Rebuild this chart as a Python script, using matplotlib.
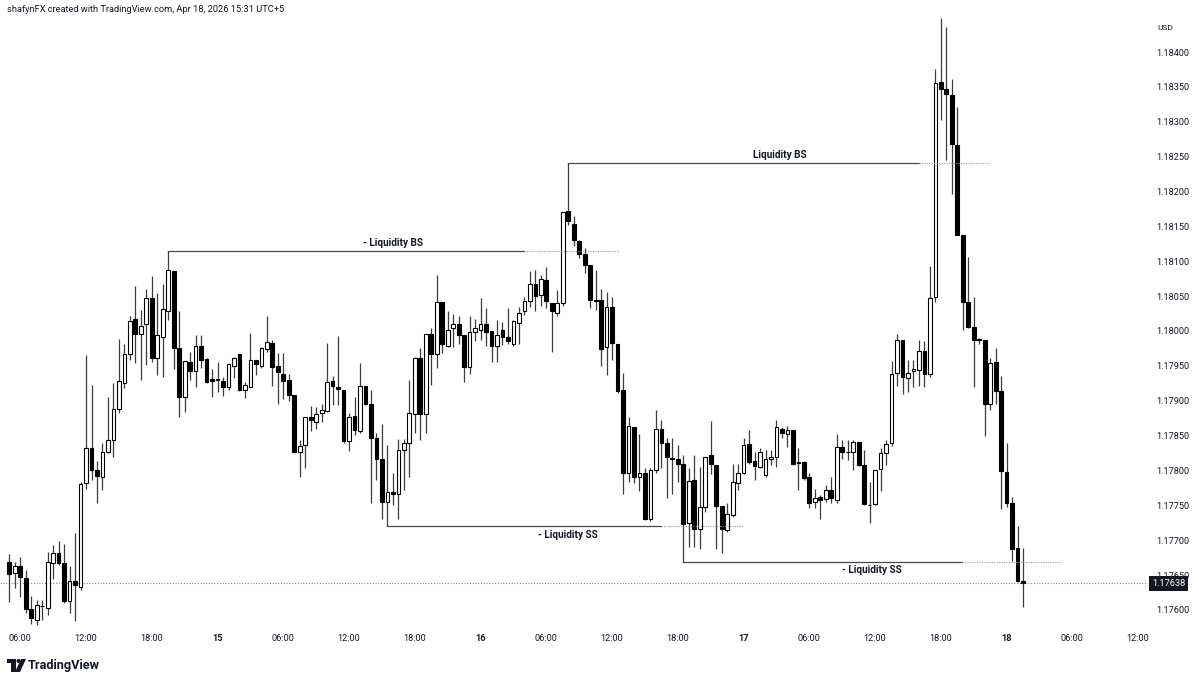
import numpy as np
import pandas as pd
import matplotlib
matplotlib.use('Agg')
import matplotlib.pyplot as plt
import matplotlib.dates as mdates
import matplotlib.transforms as mtransforms
from matplotlib.patches import Rectangle, Circle, Polygon

plt.rcParams['font.family'] = ['Roboto', 'DejaVu Sans']

# EURUSD 30 min candles
opens = [1.17669, 1.17653, 1.17663, 1.17646, 1.17601, 1.17586, 1.17605, 1.17603, 1.17668, 1.17681,
         1.17668, 1.17613, 1.17641, 1.17633, 1.17782, 1.17832, 1.17801, 1.17791, 1.17827, 1.17844,
         1.17888, 1.17926, 1.17967, 1.18017, 1.17996, 1.18010, 1.18047, 1.17962, 1.17992, 1.18029,
         1.18086, 1.17976, 1.17905, 1.17955, 1.17943, 1.17978, 1.17960, 1.17931, 1.17930, 1.17928,
         1.17920, 1.17950, 1.17967, 1.17915, 1.17920, 1.17958, 1.17950, 1.17974, 1.17983, 1.17950,
         1.17938, 1.17930, 1.17908, 1.17826, 1.17836, 1.17876, 1.17870, 1.17882, 1.17886, 1.17928,
         1.17920, 1.17916, 1.17842, 1.17878, 1.17856, 1.17921, 1.17895, 1.17846, 1.17816, 1.17755,
         1.17769, 1.17767, 1.17829, 1.17840, 1.17881, 1.17962, 1.17881, 1.17995, 1.17967, 1.18041,
         1.17979, 1.18005, 1.18010, 1.17994, 1.17949, 1.17998, 1.18002, 1.18010, 1.18000, 1.17978,
         1.18002, 1.17992, 1.17981, 1.18012, 1.18028, 1.18043, 1.18068, 1.18051, 1.18073, 1.18040,
         1.18026, 1.18040, 1.18172, 1.18154, 1.18129, 1.18110, 1.18094, 1.18044, 1.18044, 1.17977,
         1.18035, 1.17982, 1.17915, 1.17797, 1.17863, 1.17791, 1.17796, 1.17731, 1.17801, 1.17859,
         1.17839, 1.17817, 1.17816, 1.17810, 1.17725, 1.17786, 1.17716, 1.17748, 1.17822, 1.17808,
         1.17749, 1.17714, 1.17736, 1.17782, 1.17797, 1.17838, 1.17813, 1.17805, 1.17793, 1.17816,
         1.17820, 1.17859, 1.17852, 1.17858, 1.17812, 1.17812, 1.17790, 1.17755, 1.17762, 1.17759,
         1.17772, 1.17758, 1.17834, 1.17826, 1.17827, 1.17841, 1.17808, 1.17750, 1.17752, 1.17802,
         1.17825, 1.17840, 1.17940, 1.17987, 1.17933, 1.17943, 1.17944, 1.17972, 1.17938, 1.18049,
         1.18357, 1.18347, 1.18338, 1.18266, 1.18138, 1.18042, 1.18006, 1.17988, 1.17987, 1.17896,
         1.17956, 1.17914, 1.17798, 1.17754, 1.17689, 1.17642]
highs = [1.17680, 1.17669, 1.17676, 1.17657, 1.17620, 1.17614, 1.17614, 1.17683, 1.17693, 1.17699,
         1.17695, 1.17663, 1.17710, 1.17783, 1.17966, 1.17923, 1.17814, 1.17839, 1.17905, 1.17926,
         1.17988, 1.17982, 1.18021, 1.18065, 1.18030, 1.18060, 1.18079, 1.18054, 1.18068, 1.18115,
         1.18086, 1.18029, 1.17957, 1.17970, 1.17994, 1.17994, 1.17961, 1.17946, 1.17955, 1.17934,
         1.17954, 1.17963, 1.17967, 1.17927, 1.17997, 1.17959, 1.17977, 1.18021, 1.17987, 1.17968,
         1.17969, 1.17939, 1.17908, 1.17844, 1.17877, 1.17892, 1.17891, 1.17896, 1.17983, 1.17935,
         1.17993, 1.17916, 1.17883, 1.17906, 1.17954, 1.17921, 1.17915, 1.17854, 1.17866, 1.17837,
         1.17796, 1.17845, 1.17845, 1.17930, 1.17963, 1.17975, 1.17995, 1.18004, 1.18080, 1.18041,
         1.18028, 1.18025, 1.18021, 1.17994, 1.18021, 1.18017, 1.18048, 1.18033, 1.18000, 1.18016,
         1.18013, 1.18033, 1.18016, 1.18035, 1.18049, 1.18086, 1.18087, 1.18080, 1.18092, 1.18040,
         1.18059, 1.18171, 1.18241, 1.18165, 1.18130, 1.18119, 1.18095, 1.18087, 1.18060, 1.18056,
         1.18049, 1.17982, 1.17940, 1.17876, 1.17863, 1.17853, 1.17803, 1.17803, 1.17887, 1.17873,
         1.17846, 1.17846, 1.17837, 1.17822, 1.17803, 1.17822, 1.17805, 1.17820, 1.17871, 1.17808,
         1.17749, 1.17753, 1.17810, 1.17809, 1.17846, 1.17858, 1.17827, 1.17832, 1.17829, 1.17829,
         1.17872, 1.17863, 1.17864, 1.17858, 1.17832, 1.17813, 1.17797, 1.17774, 1.17765, 1.17779,
         1.17791, 1.17853, 1.17844, 1.17844, 1.17844, 1.17841, 1.17829, 1.17784, 1.17801, 1.17832,
         1.17844, 1.17957, 1.17995, 1.17987, 1.17958, 1.17958, 1.17987, 1.17986, 1.18093, 1.18375,
         1.18449, 1.18436, 1.18361, 1.18321, 1.18138, 1.18106, 1.18049, 1.17990, 1.17987, 1.17961,
         1.17976, 1.17936, 1.17839, 1.17762, 1.17720, 1.17689]
lows = [1.17612, 1.17631, 1.17619, 1.17596, 1.17580, 1.17578, 1.17586, 1.17593, 1.17645, 1.17665,
        1.17610, 1.17595, 1.17584, 1.17629, 1.17774, 1.17786, 1.17753, 1.17772, 1.17825, 1.17820,
        1.17883, 1.17918, 1.17958, 1.17954, 1.17930, 1.17951, 1.17956, 1.17937, 1.17934, 1.18016,
        1.17945, 1.17876, 1.17884, 1.17930, 1.17920, 1.17947, 1.17926, 1.17906, 1.17913, 1.17907,
        1.17915, 1.17932, 1.17914, 1.17904, 1.17919, 1.17937, 1.17947, 1.17970, 1.17921, 1.17895,
        1.17902, 1.17900, 1.17825, 1.17790, 1.17804, 1.17857, 1.17860, 1.17870, 1.17884, 1.17894,
        1.17894, 1.17840, 1.17828, 1.17851, 1.17854, 1.17894, 1.17754, 1.17786, 1.17730, 1.17720,
        1.17751, 1.17731, 1.17772, 1.17790, 1.17854, 1.17844, 1.17854, 1.17923, 1.17947, 1.17968,
        1.17977, 1.17977, 1.17981, 1.17927, 1.17939, 1.17985, 1.17987, 1.17978, 1.17955, 1.17956,
        1.17980, 1.17981, 1.17978, 1.17981, 1.18023, 1.18035, 1.18029, 1.18036, 1.18033, 1.17970,
        1.18021, 1.18036, 1.18152, 1.18122, 1.18105, 1.18083, 1.18033, 1.18030, 1.17950, 1.17937,
        1.17958, 1.17911, 1.17766, 1.17784, 1.17782, 1.17770, 1.17729, 1.17727, 1.17796, 1.17803,
        1.17760, 1.17767, 1.17783, 1.17669, 1.17691, 1.17691, 1.17688, 1.17741, 1.17795, 1.17688,
        1.17681, 1.17712, 1.17734, 1.17772, 1.17795, 1.17810, 1.17786, 1.17803, 1.17791, 1.17808,
        1.17805, 1.17846, 1.17834, 1.17808, 1.17772, 1.17787, 1.17746, 1.17746, 1.17731, 1.17755,
        1.17754, 1.17753, 1.17816, 1.17815, 1.17800, 1.17806, 1.17750, 1.17724, 1.17750, 1.17770,
        1.17808, 1.17835, 1.17921, 1.17910, 1.17913, 1.17919, 1.17921, 1.17919, 1.17934, 1.18041,
        1.18302, 1.18245, 1.18197, 1.18137, 1.18001, 1.18004, 1.17919, 1.17981, 1.17850, 1.17887,
        1.17896, 1.17745, 1.17748, 1.17670, 1.17640, 1.17604]
closes = [1.17651, 1.17663, 1.17648, 1.17601, 1.17589, 1.17607, 1.17606, 1.17669, 1.17681, 1.17668,
          1.17613, 1.17641, 1.17636, 1.17781, 1.17832, 1.17800, 1.17792, 1.17827, 1.17844, 1.17888,
          1.17928, 1.17967, 1.18014, 1.17996, 1.18007, 1.18047, 1.17962, 1.17994, 1.18031, 1.18088,
          1.17975, 1.17905, 1.17957, 1.17943, 1.17978, 1.17958, 1.17927, 1.17929, 1.17931, 1.17919,
          1.17952, 1.17961, 1.17915, 1.17922, 1.17958, 1.17953, 1.17975, 1.17984, 1.17948, 1.17941,
          1.17929, 1.17908, 1.17826, 1.17835, 1.17876, 1.17872, 1.17881, 1.17887, 1.17927, 1.17921,
          1.17917, 1.17842, 1.17877, 1.17858, 1.17921, 1.17895, 1.17846, 1.17816, 1.17755, 1.17769,
          1.17766, 1.17829, 1.17840, 1.17882, 1.17962, 1.17881, 1.17995, 1.17967, 1.18041, 1.17981,
          1.18002, 1.18010, 1.17994, 1.17948, 1.17998, 1.18004, 1.18010, 1.17998, 1.17978, 1.17994,
          1.17992, 1.17986, 1.18014, 1.18026, 1.18043, 1.18068, 1.18050, 1.18075, 1.18043, 1.18028,
          1.18040, 1.18171, 1.18157, 1.18130, 1.18111, 1.18095, 1.18044, 1.18043, 1.17974, 1.18035,
          1.17983, 1.17914, 1.17797, 1.17864, 1.17790, 1.17796, 1.17731, 1.17800, 1.17859, 1.17840,
          1.17819, 1.17818, 1.17810, 1.17723, 1.17785, 1.17716, 1.17748, 1.17820, 1.17809, 1.17749,
          1.17716, 1.17738, 1.17783, 1.17797, 1.17837, 1.17812, 1.17807, 1.17826, 1.17817, 1.17820,
          1.17862, 1.17854, 1.17858, 1.17810, 1.17811, 1.17789, 1.17754, 1.17760, 1.17758, 1.17772,
          1.17760, 1.17833, 1.17826, 1.17827, 1.17841, 1.17808, 1.17752, 1.17751, 1.17801, 1.17825,
          1.17838, 1.17938, 1.17987, 1.17934, 1.17940, 1.17946, 1.17972, 1.17938, 1.18048, 1.18355,
          1.18347, 1.18340, 1.18268, 1.18137, 1.18041, 1.18006, 1.17987, 1.17987, 1.17895, 1.17954,
          1.17914, 1.17799, 1.17754, 1.17687, 1.17642, 1.17638]
times = pd.date_range('2026-04-14 05:00', periods=len(opens), freq='30min')

last_price = 1.17638

# drawn liquidity levels
level_price = [1.18115, 1.18241, 1.17720, 1.17669]
level_start = ['2026-04-14 19:30', '2026-04-16 08:00', '2026-04-15 15:30', '2026-04-16 18:30']
level_solid_end = ['2026-04-16 04:00', '2026-04-17 16:00', '2026-04-16 16:30', '2026-04-17 19:55']
level_dot_end = ['2026-04-16 12:30', '2026-04-17 22:30', '2026-04-16 23:55', '2026-04-18 04:55']
level_text = ['- Liquidity BS', 'Liquidity BS', '- Liquidity SS', '- Liquidity SS']
level_text_at = ['2026-04-15 16:00', '2026-04-17 03:20', '2026-04-16 08:00', '2026-04-17 11:40']
level_above = [True, True, False, False]

price_ticks = np.arange(1.17600, 1.184001, 0.0005)
time_ticks = pd.date_range('2026-04-14 06:00', '2026-04-18 12:00', freq='6h')

txt = '#131722'

fig = plt.figure(figsize=(11.99, 6.85), dpi=100)
ax = fig.add_axes([0, 58 / 685, 1148 / 1199, 613 / 685])

x = mdates.date2num(times)
o = np.array(opens)
h = np.array(highs)
l = np.array(lows)
c = np.array(closes)
up = c >= o
w = 0.34 / 24

ax.vlines(x, l, h, color='#3c3c3c', lw=0.9, zorder=2)
ax.bar(x[up], c[up] - o[up], w, o[up], facecolor='white', edgecolor='black', lw=0.8, zorder=3)
ax.bar(x[~up], o[~up] - c[~up], w, c[~up], facecolor='black', edgecolor='black', lw=0.8, zorder=3)

# last price
ax.axhline(last_price, color='#8c8c8c', lw=0.8, ls=(0, (1, 1.5)), zorder=1)

for p, s, e1, e2, t, ta, above in zip(level_price, level_start, level_solid_end, level_dot_end,
                                       level_text, level_text_at, level_above):
    s, e1, e2, ta = [mdates.date2num(pd.Timestamp(v)) for v in (s, e1, e2, ta)]
    ax.plot([s, e1], [p, p], color='#4a4a4a', lw=0.9, zorder=4)
    ax.plot([e1, e2], [p, p], color='#9a9a9a', lw=0.8, ls=(0, (1, 1.2)), zorder=4)
    ax.annotate(t, (ta, p), xytext=(0, 5.5 if above else -6), textcoords='offset points',
                ha='center', va='center', fontsize=7.2, fontweight='bold', color=txt)

ax.set_xlim(mdates.date2num(pd.Timestamp('2026-04-14 04:09')),
            mdates.date2num(pd.Timestamp('2026-04-18 12:54')))
ax.set_ylim(1.175756, 1.184545)

ax.set_xticks(mdates.date2num(time_ticks))
labels = [str(t.day) if t.hour == 0 else t.strftime('%H:%M') for t in time_ticks]
ax.set_xticklabels(labels)
for lab, t in zip(ax.get_xticklabels(), time_ticks):
    if t.hour == 0:
        lab.set_fontweight('bold')

ax.yaxis.tick_right()
ax.set_yticks(price_ticks)
ax.set_yticklabels(['%.5f' % v for v in price_ticks])
ax.tick_params(axis='x', length=0, labelsize=6.6, colors=txt, pad=5)
ax.tick_params(axis='y', length=0, labelsize=6.6, colors=txt, pad=6)
for sp in ax.spines.values():
    sp.set_visible(False)

trans = mtransforms.blended_transform_factory(ax.transAxes, ax.transData)
ax.text(1.0035, last_price, '1.17638', transform=trans, ha='left', va='center',
        fontsize=6.6, color='white', clip_on=False,
        bbox=dict(boxstyle='square,pad=0.3', fc='#131722', ec='none'))

fig.text(1165 / 1199, 1 - 28 / 685, 'USD', ha='center', va='center', fontsize=6, color=txt)
fig.text(7 / 1199, 1 - 10 / 685, 'shafynFX created with TradingView.com, Apr 18, 2026 15:31 UTC+5',
         ha='left', va='center', fontsize=6.7, color=txt)

# TradingView logo
H = 685
fig.patches.append(Rectangle((7, H - 663), 9, 4, transform=None, fc=txt, ec='none'))
fig.patches.append(Rectangle((11, H - 672), 5, 13, transform=None, fc=txt, ec='none'))
fig.patches.append(Circle((18.5, H - 661), 2, transform=None, fc=txt, ec='none'))
fig.patches.append(Polygon([(21, H - 659), (26, H - 659), (20, H - 672), (15, H - 672)],
                           closed=True, transform=None, fc=txt, ec='none'))
fig.text(28 / 1199, 1 - 665 / 685, 'TradingView', ha='left', va='center', fontsize=9.2,
         fontweight='bold', color=txt)

fig.savefig('out.png', dpi=100)
